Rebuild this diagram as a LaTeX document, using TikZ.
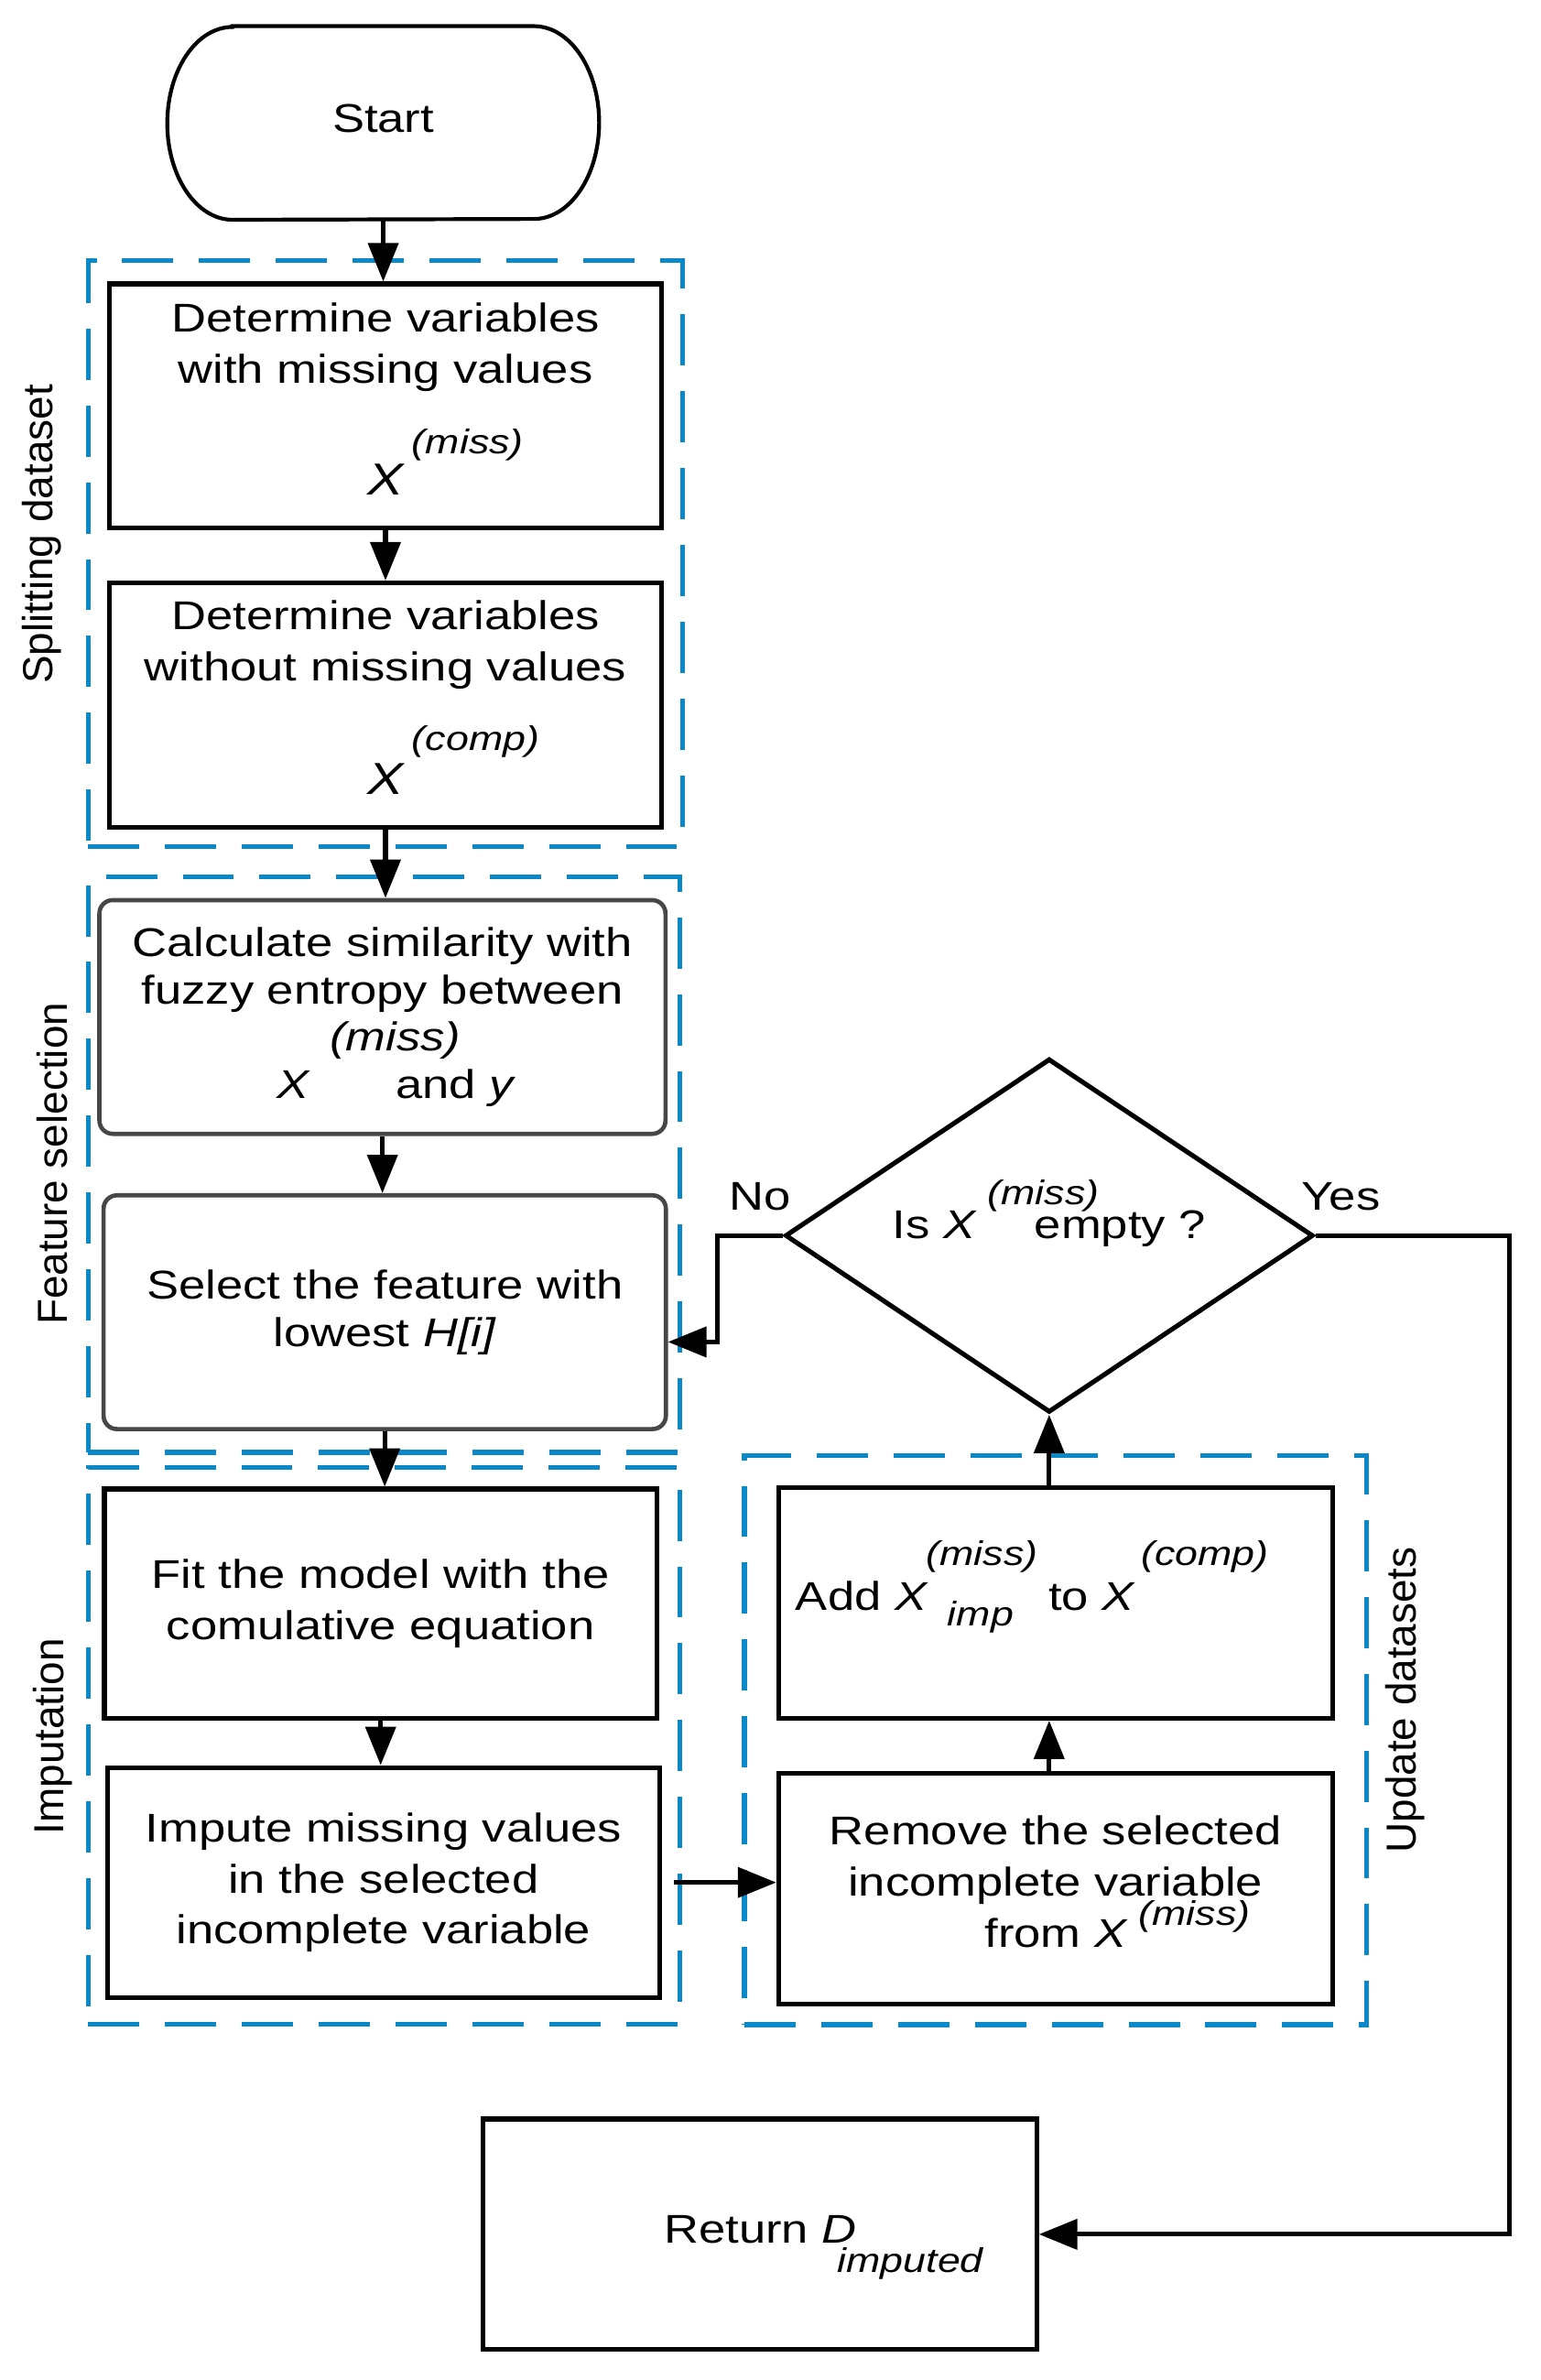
\documentclass[tikz,border=0pt]{standalone}
\usepackage{fontspec}
\setmainfont{Liberation Sans}
\newfontfamily\wf[FakeStretch=1.2]{Liberation Sans}
\usetikzlibrary{arrows.meta,shapes.geometric}
\definecolor{dashblue}{RGB}{10,136,200}
\newcommand\tx{\wf\fontsize{18.8}{24}\selectfont}
\newcommand\sps[2]{\raisebox{#1}[0pt][0pt]{\fontsize{16}{16}\selectfont\itshape #2}}
\newcommand\sbs[2]{\raisebox{-#1}[0pt][0pt]{\fontsize{16}{16}\selectfont\itshape #2}}
\begin{document}
\begin{tikzpicture}[x=0.025cm,y=-0.025cm,
  sz/.style 2 args={minimum width=#1*0.025cm,minimum height=#2*0.025cm},
  box/.style={draw=black,line width=2.2pt,inner sep=0pt,font=\tx,align=center},
  rbox/.style={box,draw=black!72,line width=2pt,rounded corners=0.22cm},
  grp/.style={draw=dashblue,line width=2.2pt,dash pattern=on 24pt off 12pt,inner sep=0pt},
  side/.style={font=\fontsize{19.7}{20}\selectfont,rotate=90},
  arr/.style={line width=2.2pt,-{Triangle[length=18pt,width=14pt]}},
  lbl/.style={font=\tx}]
\useasboundingbox (0,0) rectangle (1015,1568);

% group frames
\node[grp,sz={392}{386}] (split) at (254,364.5) {};
\node[grp,sz={390}{379}] (feat) at (253.2,767.3) {};
\node[grp,sz={390}{367}] (imp) at (253.2,1150.3) {};
\node[grp,sz={410}{375}] (upd) at (695.5,1146.4) {};

% side labels
\node[side] (lsplit) at (27.6,352) {Splitting dataset};
\node[side] (lfeat) at (34.7,766.7) {Feature selection};
\node[side] (limp) at (34.6,1144) {Imputation};
\node[side] (lupd) at (926,1120) {Update datasets};

% start
\node[sz={284}{127},inner sep=0pt,font=\tx] (start) at (252.5,81) {Start\rule[-4pt]{0pt}{0pt}};
\draw[line width=1.8pt] ([xshift=1.075cm]start.north west) -- ([xshift=-1.075cm]start.north east)
  arc[start angle=90,end angle=-90,x radius=1.075cm,y radius=1.5875cm]
  -- ([xshift=1.075cm]start.south west)
  arc[start angle=270,end angle=90,x radius=1.075cm,y radius=1.5875cm] -- cycle;

% boxes
\node[box,sz={364}{161}] (b1) at (254,267.5) {Determine variables\\with missing values\\[28.3pt]{\fontsize{21}{21}\selectfont\itshape X}\makebox[0pt][l]{\sps{19pt}{\hspace{4pt}(miss)}}\rule[-7pt]{0pt}{7pt}};
\node[box,sz={364}{161}] (b2) at (254,464.5) {Determine variables\\without missing values\\[29.3pt]{\fontsize{21}{21}\selectfont\itshape X}\makebox[0pt][l]{\sps{20.5pt}{\hspace{4pt}(comp)}}\rule[-7pt]{0pt}{7pt}};
\node[rbox,sz={373}{154},font=\wf\fontsize{18.8}{22.2}\selectfont] (b3) at (252,670) {Calculate similarity with\\fuzzy entropy between\\\hspace*{12pt}\textit{(miss)}\\\hspace*{13pt}\textit{X}\hspace{40pt}and \textit{y}};
\node[rbox,sz={370.5}{154},font=\wf\fontsize{18.8}{22.4}\selectfont] (b4) at (253.5,864.5) {Select the feature with\\lowest \textit{H[i]}};
\node[box,sz={364}{151}] (b5) at (250.8,1056.5) {Fit the model with the\\comulative equation};
\node[box,sz={364}{151.4}] (b6) at (252.7,1240.2) {Impute missing values\\in the selected\\incomplete variable};
\node[box,sz={365}{152.5}] (b7) at (695.5,1244.3) {Remove the selected\\incomplete variable\\\hspace*{58pt}from \textit{X}\sps{10.5pt}{\hspace{5pt}(miss)}\rule[-6.5pt]{0pt}{0pt}};
\node[box,sz={365}{152}] (b8) at (695.5,1056) {Add \textit{X}\hspace{-1pt}\makebox[0pt][l]{\sps{21pt}{(miss)}}\hspace{10pt}\sbs{7.6pt}{imp}\hspace{16.4pt}to \textit{X}\hspace{2.5pt}\sps{21pt}{(comp)}\hspace*{22pt}\rule[-7pt]{0pt}{0pt}};
\node[draw,line width=2.2pt,diamond,aspect=1.5,inner sep=0pt,sz={348}{233},font=\tx] (dia) at (691.3,814)
  {Is \textit{X}\hspace{5pt}\makebox[0pt][l]{\sps{16pt}{(miss)}}\hspace{22pt}empty ?\rule[-10pt]{0pt}{0pt}};
\node[box,sz={365}{152}] (ret) at (500.5,1472) {\hspace*{60pt}Return \textit{D}\hspace{-9pt}\sbs{13.5pt}{imputed}\rule[-4.3pt]{0pt}{0pt}};

% branch labels
\node[lbl] (no) at (501,788) {No};
\node[lbl] (yes) at (883.5,788) {Yes};

% connectors
\draw[arr] (start.south) -- (start.south |- b1.north);
\draw[arr] (b1.south) -- (b1.south |- b2.north);
\draw[arr] (b2.south) -- (b2.south |- b3.north);
\draw[arr] (b3.south) -- (b3.south |- b4.north);
\draw[arr] (b4.south) -- (b4.south |- b5.north);
\draw[arr] (b5.south) -- (b5.south |- b6.north);
\draw[arr] ([xshift=0.2cm]b6.east) -- (b6.east -| b7.west);
\draw[arr] (dia.south |- b7.north) -- (dia.south |- b8.south);
\draw[arr] (dia.south |- b8.north) -- (dia.south);
\draw[arr] (dia.west) -- ++(-43,0) |- ([yshift=-0.49cm]b4.east);
\draw[arr] (dia.east) -- ++(127.6,0) |- (ret.east);
\end{tikzpicture}
\end{document}
